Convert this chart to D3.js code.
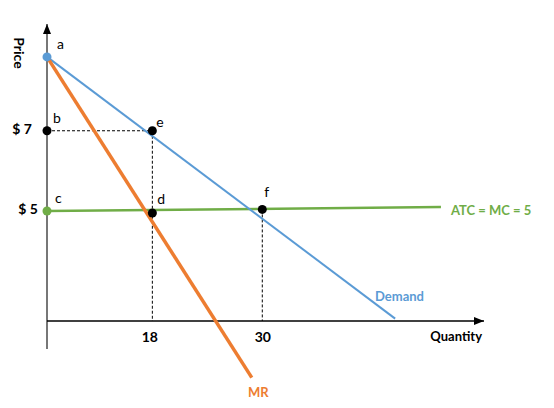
<!DOCTYPE html>
<html><head><meta charset="utf-8">
<script src="https://cdn.jsdelivr.net/npm/d3@7"></script>
<style>
html,body{margin:0;padding:0;background:#fff;}
svg text{font-family:Lato,"Open Sans",sans-serif;}
</style></head>
<body>
<script>
// ---- data ----
const priceTicks = [5, 7];
const priceTickLabels = ["$ 5", "$ 7"];
const quantityTicks = [18, 30];
const demandQ = [6.5, 44.5];
const demandP = [8.84, 2.32];
const mrQ = [6.5, 28.85];
const mrP = [8.84, 0.85];
const atcQ = [6.5, 49.5];
const atcP = [5.0, 5.1];
const pointNames = ["a", "b", "c", "e", "d", "f"];
const pointQ = [6.5, 6.5, 6.5, 18, 18, 30];
const pointP = [8.84, 7, 5, 7, 4.95, 5.04];
const pointKinds = ["demand", "black", "atc", "black", "black", "black"];

const W = 554, H = 408;
const svg = d3.select("body").append("svg").attr("width", W).attr("height", H);

const x = d3.scaleLinear().domain([6.5, 54.2]).range([47, 484]);
const y = d3.scaleLinear().domain([2.26, 9.66]).range([321, 24]);

const blue = "#5B9BD5", orange = "#ED7D31", green = "#70AD47";

const defs = svg.append("defs");
defs.append("marker").attr("id", "arr").attr("viewBox", "0 0 10 10")
  .attr("refX", 10).attr("refY", 5).attr("markerWidth", 10).attr("markerHeight", 10)
  .attr("markerUnits", "userSpaceOnUse").attr("orient", "auto")
  .append("path").attr("d", "M0,1 L10,5 L0,9 Z").attr("fill", "#000");

// axes lines
svg.append("line").attr("x1", x(6.5)).attr("x2", x(6.5))
  .attr("y1", y(1.56)).attr("y2", y(9.66))
  .attr("stroke", "#555").attr("stroke-width", 1.6).attr("marker-end", "url(#arr)");
svg.append("line").attr("x1", x(6.5)).attr("x2", x(54.2))
  .attr("y1", y(2.26)).attr("y2", y(2.26))
  .attr("stroke", "#000").attr("stroke-width", 1.3).attr("marker-end", "url(#arr)");

// tick labels via d3 axes
const xa = svg.append("g").attr("transform", `translate(0,${y(2.26)})`)
  .call(d3.axisBottom(x).tickValues(quantityTicks).tickSize(0).tickPadding(11));
xa.select(".domain").remove();
xa.selectAll("text").attr("font-size", 14).attr("font-weight", 700)
  .attr("font-family", "Lato").attr("fill", "#000")
  .attr("dx", d => d === 18 ? -3 : 0);

const ya = svg.append("g").attr("transform", `translate(${x(6.5)},0)`)
  .call(d3.axisLeft(y).tickValues(priceTicks).tickSize(0).tickPadding(9)
    .tickFormat((d, i) => priceTickLabels[i]));
ya.select(".domain").remove();
ya.selectAll("text").attr("font-size", 14).attr("font-weight", 700)
  .attr("font-family", "Lato").attr("fill", "#000")
  .attr("dy", "0.18em")
  .attr("dx", d => d === 7 ? -6 : 0);

// axis titles
svg.append("text").attr("x", 482).attr("y", 341).attr("text-anchor", "end")
  .attr("font-size", 13).attr("font-weight", 700).text("Quantity");
svg.append("text").attr("transform", "translate(13.5,53) rotate(90)")
  .attr("text-anchor", "middle").attr("font-size", 14).attr("font-weight", 700).text("Price");

// dashed guides
const dash = svg.append("g").attr("stroke", "#000").attr("stroke-width", 1)
  .attr("stroke-dasharray", "3,2").attr("fill", "none");
dash.append("line").attr("x1", x(pointQ[1])).attr("x2", x(pointQ[3]))
  .attr("y1", y(7)).attr("y2", y(7));
dash.append("line").attr("x1", x(18)).attr("x2", x(18))
  .attr("y1", y(7)).attr("y2", y(2.26));
dash.append("line").attr("x1", x(30)).attr("x2", x(30))
  .attr("y1", y(5.04)).attr("y2", y(2.26));

// curves
const line = d3.line().x(d => x(d[0])).y(d => y(d[1]));
svg.append("path").attr("d", line(d3.zip(atcQ, atcP)))
  .attr("stroke", green).attr("stroke-width", 2.5).attr("fill", "none");
svg.append("path").attr("d", line(d3.zip(demandQ, demandP)))
  .attr("stroke", blue).attr("stroke-width", 2).attr("fill", "none");
svg.append("path").attr("d", line(d3.zip(mrQ, mrP)))
  .attr("stroke", orange).attr("stroke-width", 3.5).attr("fill", "none");

// points
const colorOf = k => k === "demand" ? blue : k === "atc" ? green : "#000";
svg.append("g").selectAll("circle").data(pointNames).join("circle")
  .attr("cx", (d, i) => x(pointQ[i])).attr("cy", (d, i) => y(pointP[i]))
  .attr("r", 4.5).attr("fill", (d, i) => colorOf(pointKinds[i]));

// point letters
const labelDx = [10, 6, 8, 4, 5, 2];
const labelDy = [-8, -8, -8, -4, -9, -12];
svg.append("g").selectAll("text").data(pointNames).join("text")
  .attr("x", (d, i) => x(pointQ[i]) + labelDx[i])
  .attr("y", (d, i) => y(pointP[i]) + labelDy[i])
  .attr("font-size", 14).attr("fill", "#000").text(d => d);

// curve labels
svg.append("text").attr("x", 375).attr("y", 301).attr("font-size", 13)
  .attr("font-weight", 700).attr("fill", blue).text("Demand");
svg.append("text").attr("x", 248).attr("y", 397).attr("font-size", 13)
  .attr("font-weight", 700).attr("fill", orange).text("MR");
svg.append("text").attr("x", 451).attr("y", 215).attr("font-size", 13)
  .attr("font-weight", 700).attr("fill", green).text("ATC = MC = 5");
</script>
</body></html>
